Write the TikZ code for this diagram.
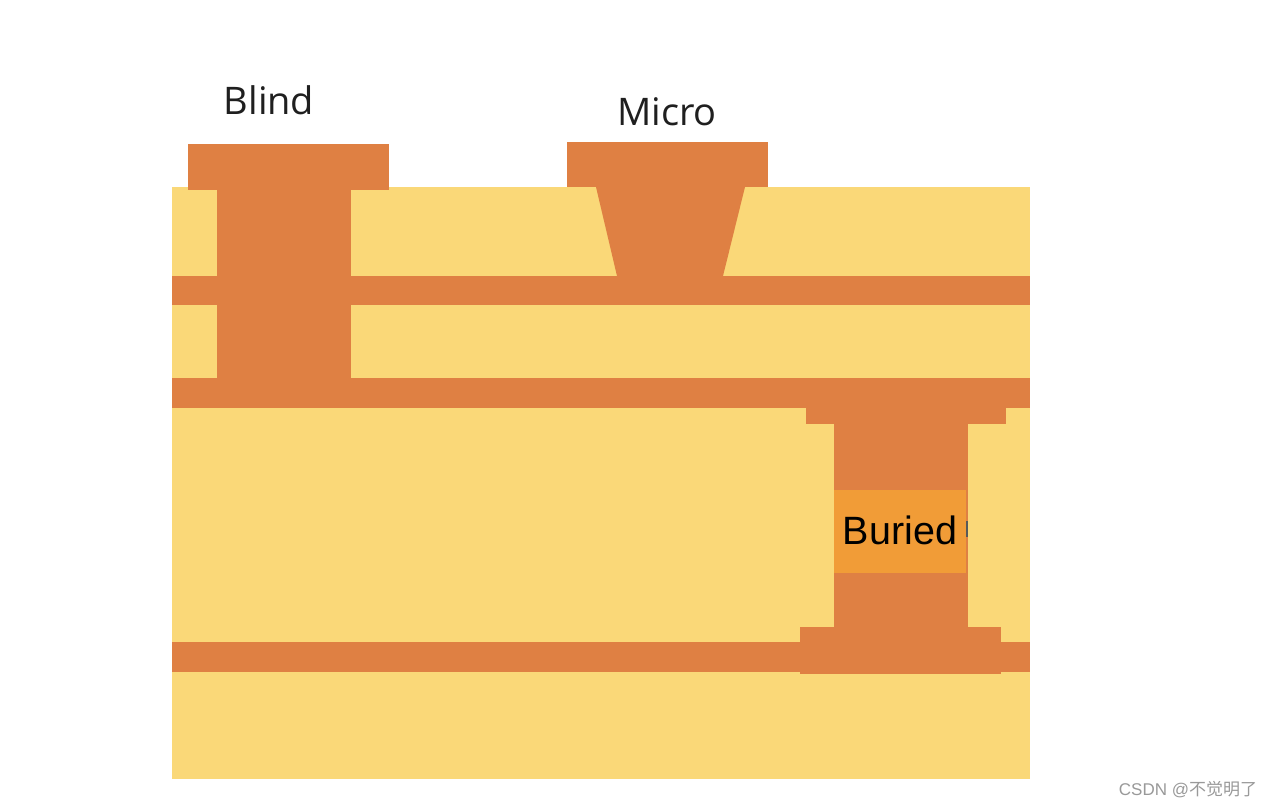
\documentclass[tikz,border=0pt]{standalone}
\usepackage{fontspec}
\setmainfont{Liberation Sans}
\newfontfamily\labelfont{Open Sans}
\newfontfamily\cjkfont{Noto Sans CJK SC}
\definecolor{boardyellow}{HTML}{FAD878}
\definecolor{copper}{HTML}{DF8043}
\definecolor{buriedfill}{HTML}{F19C37}
\tikzset{
    board/.style={fill=boardyellow},
    metal/.style={fill=copper},
    vialabel/.style={font=\labelfont\fontsize{38}{38}\selectfont, text=black!88, inner sep=0pt}
}
\begin{document}
\begin{tikzpicture}[x=1pt, y=-1pt]
    \useasboundingbox [fill=white] (0,0) rectangle (1270,808);
    % Platine
    \fill [board] (172,187) rectangle (1030,779);
    % Kupferlagen
    \fill [metal] (172,276) rectangle (1030,305);
    \fill [metal] (172,378) rectangle (1030,408);
    \fill [metal] (172,642) rectangle (1030,672);
    % Blind
    \fill [metal] (188,144) rectangle (389,190);
    \fill [metal] (217,190) rectangle (351,378);
    % Micro
    \fill [metal] (567,142) rectangle (768,187);
    \fill [metal] (596,187) -- (745,187) -- (723,276) -- (617,276) -- cycle;
    % Buried
    \fill [metal] (806,408) rectangle (1006,424);
    \fill [metal] (834,424) rectangle (968,627);
    \fill [metal] (800,627) rectangle (1001,674);
    \fill [fill=buriedfill] (834,490) rectangle (966,573);
    \fill [fill=black!65] (966,521) rectangle (968,537);
    % Beschriftung
    \node [vialabel] (blind) at (269,100) {Blind};
    \node [vialabel] (micro) at (667,112) {Micro};
    \node [inner sep=0pt, font=\fontsize{39.5}{39.5}\selectfont] (buried) at (900,530) {Buried};
    \node [inner sep=0pt, text=black!40, font=\fontsize{17}{17}\selectfont] (mark) at (1188,790) {CSDN @{\cjkfont 不觉明了}};
\end{tikzpicture}
\end{document}
